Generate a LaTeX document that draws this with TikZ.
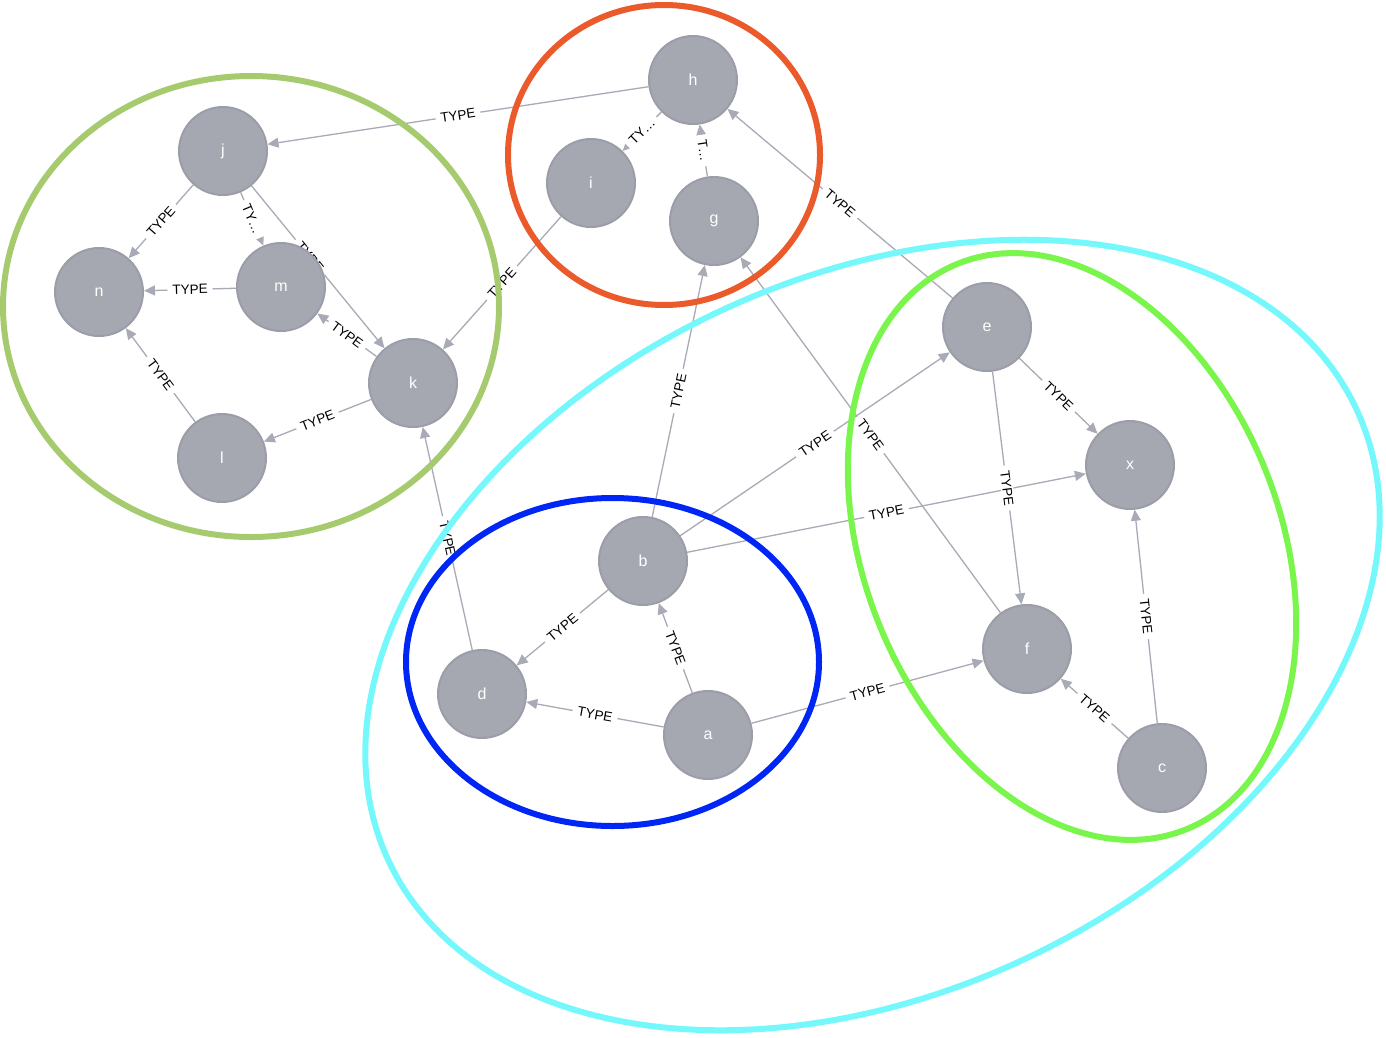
\documentclass[tikz,border=0pt]{standalone}
\usepackage{fontspec}
\setmainfont{Liberation Sans}
\usetikzlibrary{arrows.meta}
\definecolor{nodefill}{HTML}{A5A8B1}
\definecolor{nodeborder}{HTML}{9B9EA8}
\definecolor{edgecol}{HTML}{A8AAB6}
\definecolor{olivegrp}{HTML}{A6CB6E}
\definecolor{orangegrp}{HTML}{EA5A2A}
\definecolor{bluegrp}{HTML}{0026F5}
\definecolor{greengrp}{HTML}{79F54B}
\definecolor{cyangrp}{HTML}{75F8FC}
\begin{document}
\begin{tikzpicture}[x=1pt,y=-1pt,
  gnode/.style={circle, fill=nodefill, draw=nodeborder, line width=2pt, minimum size=88pt, inner sep=0pt, text=white, font=\fontsize{16}{16}\selectfont},
  rel/.style={draw=edgecol, line width=1.3pt, -{Triangle[length=11pt,width=10pt]}},
  lbl/.style={sloped, midway, fill=white, inner xsep=5pt, inner ysep=1.5pt, font=\fontsize{13.5}{13.5}\selectfont, text=black},
  grp/.style={line width=6pt}]
\useasboundingbox (0,0) rectangle (1386,1037);
% node positions
\path
  (693,80)   coordinate (ph)
  (591,183)  coordinate (pi)
  (714,221)  coordinate (pg)
  (223,151)  coordinate (pj)
  (99,292)   coordinate (pn)
  (281,287)  coordinate (pm)
  (413,383)  coordinate (pk)
  (222,458)  coordinate (pl)
  (987,327)  coordinate (pe)
  (1130,465) coordinate (px)
  (1027,649) coordinate (pf)
  (1162,768) coordinate (pc)
  (643,561)  coordinate (pb)
  (482,694)  coordinate (pd)
  (708,735)  coordinate (pa);
% anchoring shapes for the connectors
\begin{scope}[every node/.style={circle, minimum size=88pt, inner sep=0pt, line width=2pt}]
  \node (h) at (ph) {};
  \node (i) at (pi) {};
  \node (g) at (pg) {};
  \node (j) at (pj) {};
  \node (n) at (pn) {};
  \node (m) at (pm) {};
  \node (k) at (pk) {};
  \node (l) at (pl) {};
  \node (e) at (pe) {};
  \node (x) at (px) {};
  \node (f) at (pf) {};
  \node (c) at (pc) {};
  \node (b) at (pb) {};
  \node (d) at (pd) {};
  \node (a) at (pa) {};
\end{scope}
% connectors
\draw[rel] (h) -- node[lbl]{TYPE} (j);
\draw[rel] (h) -- node[lbl]{TY…} (i);
\draw[rel] (g) -- node[lbl]{T…} (h);
\draw[rel] (i) -- node[lbl]{TYPE} (k);
\draw[rel] (j) -- node[lbl]{TYPE} (n);
\draw[rel] (j) -- node[lbl]{TY…} (m);
\draw[rel] (j) -- node[lbl, pos=0.44]{TYPE} (k);
\draw[rel] (m) -- node[lbl]{TYPE} (n);
\draw[rel] (k) -- node[lbl]{TYPE} (m);
\draw[rel] (k) -- node[lbl]{TYPE} (l);
\draw[rel] (l) -- node[lbl]{TYPE} (n);
\draw[rel] (e) -- node[lbl]{TYPE} (h);
\draw[rel] (d) -- node[lbl]{TYPE} (k);
\draw[rel] (b) -- node[lbl]{TYPE} (g);
\draw[rel] (b) -- node[lbl]{TYPE} (e);
\draw[rel] (b) -- node[lbl]{TYPE} (x);
\draw[rel] (f) -- node[lbl]{TYPE} (g);
\draw[rel] (e) -- node[lbl]{TYPE} (x);
\draw[rel] (e) -- node[lbl]{TYPE} (f);
\draw[rel] (c) -- node[lbl]{TYPE} (x);
\draw[rel] (c) -- node[lbl]{TYPE} (f);
\draw[rel] (b) -- node[lbl]{TYPE} (d);
\draw[rel] (a) -- node[lbl]{TYPE} (b);
\draw[rel] (a) -- node[lbl]{TYPE} (d);
\draw[rel] (a) -- node[lbl]{TYPE} (f);
% visible nodes
\node[gnode] (hv) at (ph) {h};
\node[gnode] (iv) at (pi) {i};
\node[gnode] (gv) at (pg) {g};
\node[gnode] (jv) at (pj) {j};
\node[gnode] (nv) at (pn) {n};
\node[gnode] (mv) at (pm) {m};
\node[gnode] (kv) at (pk) {k};
\node[gnode] (lv) at (pl) {l};
\node[gnode] (ev) at (pe) {e};
\node[gnode] (xv) at (px) {x};
\node[gnode] (fv) at (pf) {f};
\node[gnode] (cv) at (pc) {c};
\node[gnode] (bv) at (pb) {b};
\node[gnode] (dv) at (pd) {d};
\node[gnode] (av) at (pa) {a};
% group outlines
\draw[grp, draw=olivegrp] (251,306.5) ellipse [x radius=248pt, y radius=230.5pt];
\draw[grp, draw=orangegrp] (664,155) ellipse [x radius=156pt, y radius=150pt];
\draw[grp, draw=cyangrp, rotate around={25:(872.5,635)}] (872.5,635) ellipse [x radius=534pt, y radius=358pt];
\draw[grp, draw=greengrp, rotate around={22:(1072,546.5)}] (1072,546.5) ellipse [x radius=208pt, y radius=305pt];
\draw[grp, draw=bluegrp] (612.5,662) ellipse [x radius=206.5pt, y radius=164pt];
\end{tikzpicture}
\end{document}
